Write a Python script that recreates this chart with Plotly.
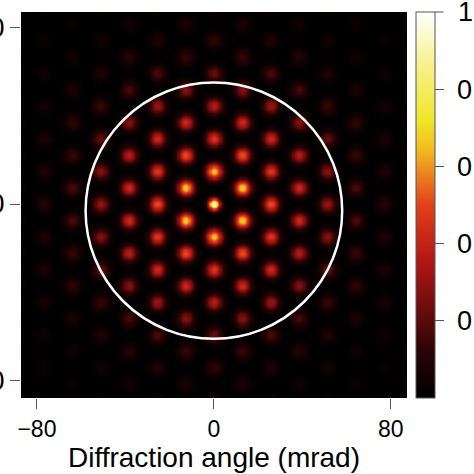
import numpy as np
import plotly.graph_objects as go

# lattice (mrad)
lattice_a = 14.8               # nearest-spot spacing
lattice_angle_deg = 60         # hexagonal
spot_sigma = 2.6
# peak intensity by shell (0 = central spot, then increasing distance)
shell_intensity = [1.0, 0.68, 0.52, 0.47, 0.42, 0.37, 0.31, 0.28, 0.22, 0.17,
                   0.14, 0.12, 0.10, 0.08, 0.07, 0.06, 0.05, 0.045, 0.04, 0.035,
                   0.03, 0.03, 0.025, 0.02, 0.02, 0.015]
circle_center = (0.0, -3.0)
circle_radius = 58.0
x_ticks = [-80, 0, 80]
y_ticks = [-80, 0, 80]
cb_ticks = [0.2, 0.4, 0.6, 0.8, 1.0]

grid = np.arange(-88, 88.01, 0.5)
X, Y = np.meshgrid(grid, grid)
Z = np.zeros_like(X)
a1 = np.array([0.0, lattice_a])
th = np.deg2rad(90 - lattice_angle_deg)
a2 = lattice_a * np.array([np.cos(th), np.sin(th)])
pts = []
for i in range(-12, 13):
    for j in range(-12, 13):
        p = i * a1 + j * a2
        if abs(p[0]) < 95 and abs(p[1]) < 95:
            pts.append(p)
pts = np.array(pts)
d = np.round(np.hypot(pts[:, 0], pts[:, 1]), 2)
shells = sorted(set(d))
for p, dd in zip(pts, d):
    k = shells.index(dd)
    amp = shell_intensity[k] if k < len(shell_intensity) else shell_intensity[-1]
    s = spot_sigma * (0.7 if k == 0 else 1.0)
    Z = np.maximum(Z, amp * np.exp(-((X - p[0])**2 + (Y - p[1])**2) / (2 * s**2)))

hot = [[0, "#000000"], [0.12, "#2a0404"], [0.35, "#b01515"], [0.5, "#e2401a"],
       [0.65, "#f2c020"], [0.72, "#f0e628"], [0.85, "#f8f080"], [1, "#ffffff"]]
FONT = dict(size=23, color="black", family="Liberation Sans")
CBFONT = dict(size=27, color="black", family="Liberation Sans")

fig = go.Figure(go.Heatmap(
    x=grid, y=grid, z=Z, zmin=0, zmax=1.0001, colorscale=hot, zsmooth="best",
    colorbar=dict(x=1.023, xanchor="left", xpad=0, ypad=0, y=0.5, len=1, lenmode="fraction",
                  thickness=19, outlinecolor="#555", outlinewidth=1,
                  tickvals=cb_ticks[:-1], ticktext=["\u00a0" + str(v) for v in cb_ticks[:-1]],
                  ticks="outside", ticklen=9, tickcolor="#555", tickfont=CBFONT)))
fig.add_annotation(xref="paper", yref="paper", x=1.127, y=1.0, xanchor="left",
                   yanchor="middle", text=str(int(cb_ticks[-1])), showarrow=False, font=CBFONT)
fig.add_shape(type="line", xref="paper", yref="paper", x0=1.072, x1=1.095, y0=1.0, y1=1.0,
              line=dict(color="#555", width=1))
fig.add_shape(type="circle", xref="x", yref="y",
              x0=circle_center[0] - circle_radius, x1=circle_center[0] + circle_radius,
              y0=circle_center[1] - circle_radius, y1=circle_center[1] + circle_radius,
              line=dict(color="white", width=2.5))
fig.update_xaxes(range=[-87.2, 87.3], tickvals=x_ticks, ticks="outside", ticklen=10,
                 tickcolor="#555", showgrid=False, zeroline=False, tickfont=FONT,
                 title=dict(text="Diffraction angle (mrad)", standoff=0,
                            font=dict(size=28, color="black", family="Liberation Sans")))
fig.update_yaxes(range=[-87.8, 86.9], tickvals=y_ticks, ticks="outside", ticklen=10,
                 tickcolor="#555", showgrid=False, zeroline=False, tickfont=CBFONT)
fig.update_layout(width=474, height=474, margin=dict(l=21, r=67, t=12, b=76, autoexpand=False),
                  paper_bgcolor="white", plot_bgcolor="black")
fig.write_html("out.html", config={"displayModeBar": False})
with open("out.html") as f:
    html = f.read()
html = html.replace("<head>", "<head><style>html,body{margin:0;padding:0;overflow:hidden}</style>", 1)
with open("out.html", "w") as f:
    f.write(html)
